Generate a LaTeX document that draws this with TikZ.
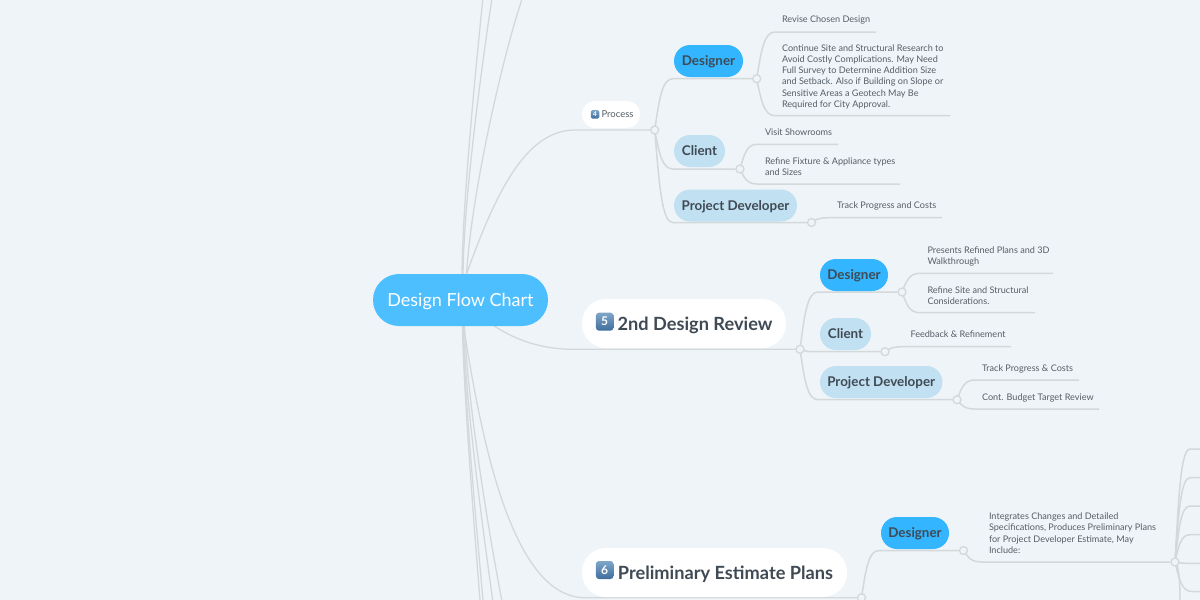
\documentclass[tikz,border=0pt]{standalone}
\usepackage{fontspec}
\setmainfont{Lato}
\usetikzlibrary{calc}
\definecolor{bgc}{HTML}{EFF4F8}
\definecolor{linec}{HTML}{D3D8DB}
\definecolor{rootc}{HTML}{4DBFFF}
\definecolor{desc}{HTML}{33B5FF}
\definecolor{subc}{HTML}{C1E1F2}
\definecolor{darkc}{HTML}{3F4A54}
\definecolor{leafc}{HTML}{555F66}
\definecolor{KeyTop}{HTML}{7FA6C9}
\definecolor{KeyBot}{HTML}{3F6E9C}
\pgfdeclarelayer{bglayer}
\pgfdeclarelayer{edges}
\pgfsetlayers{bglayer,edges,main}
\tikzset{
  x=1pt,y=-1pt,
  pill/.style={rounded corners=#1,inner sep=0pt,outer sep=0pt},
  rootbox/.style={pill=26pt,fill=rootc,text=white,minimum width=175pt,minimum height=52pt,text height=14pt,text depth=1pt,font=\fontsize{18}{20}\selectfont},
  whitebox/.style={pill=24pt,fill=white,text=darkc,minimum height=49pt,text height=14pt,text depth=1pt,font=\bfseries\fontsize{18.2}{20}\selectfont},
  smallbox/.style={pill=13pt,fill=white,text=leafc,minimum height=27pt,text height=7.4pt,text depth=1pt,font=\fontsize{9.5}{12}\selectfont},
  desbox/.style={pill=16pt,fill=desc,text=darkc,minimum height=32pt,text height=10.4pt,text depth=1pt,font=\bfseries\fontsize{13.4}{16}\selectfont},
  subbox/.style={pill=16pt,fill=subc,text=darkc,minimum height=32pt,text height=10.4pt,text depth=1pt,font=\bfseries\fontsize{13.4}{16}\selectfont},
  leaf/.style={anchor=north west,inner sep=0pt,outer sep=0pt,text=leafc,align=left,font=\fontsize{9.1}{11.2}\selectfont},
  junction/.style={circle,draw=linec,fill=bgc,line width=1.3pt,minimum size=8pt,inner sep=0pt},
  conn/.style={draw=linec,line width=1.5pt},
  rootconn/.style={draw=linec,line width=1.3pt},
  keycap/.style={rounded corners=#1,top color=KeyTop,bottom color=KeyBot,text=white,inner sep=0pt,outer sep=0pt},
}
\newcommand{\branch}[3]{%
  \draw[conn] let \p1=(#1),\p2=(#2) in (\p1)
    .. controls ({\x1+.25*(\x2-\x1)},{\y1+.6*(\y2-\y1)}) and ({\x1+.4*(\x2-\x1)},\y2) .. (\p2) -- (#3);}
\begin{document}
\begin{tikzpicture}
\useasboundingbox (0,0) rectangle (1200,600);
\begin{pgfonlayer}{bglayer}
\fill[bgc] (0,0) rectangle (1200,600);
\end{pgfonlayer}

% root and first level
\node[rootbox] (root) at (460.5,300) {Design Flow Chart};
\node[smallbox,minimum width=58pt] (process) at (611,114.5) {\hspace*{13pt}Process};
\node[keycap=1.5pt,minimum width=8.5pt,minimum height=8.5pt,font=\bfseries\fontsize{6.5}{7}\selectfont] (key4) at (595,114.3) {4};
\node[whitebox,minimum width=204pt] (review) at (684,323.5) {\hspace*{22pt}2nd Design Review};
\node[keycap=3pt,minimum width=17.5pt,minimum height=18pt,font=\bfseries\fontsize{12}{13}\selectfont] (key5) at (604.7,321.7) {5};
\node[whitebox,minimum width=265pt] (prelim) at (714.5,572.5) {\hspace*{22pt}Preliminary Estimate Plans};
\node[keycap=3pt,minimum width=17.5pt,minimum height=18pt,font=\bfseries\fontsize{12}{13}\selectfont] (key6) at (604.7,570) {6};

% junctions
\node[junction] (jP) at (654.7,130) {};
\node[junction] (jPD) at (756.7,78.7) {};
\node[junction] (jPC) at (740,169) {};
\node[junction] (jPP) at (811.5,222.5) {};
\node[junction] (jR) at (800,349.3) {};
\node[junction] (jRD) at (902,292) {};
\node[junction] (jRC) at (885,351.7) {};
\node[junction] (jRP) at (957,399.7) {};
\node[junction] (jE) at (861.5,597.7) {};
\node[junction] (jED) at (963.5,550.5) {};
\node[junction] (jEL) at (1175,562) {};

% second level
\node[desbox,minimum width=69pt] (pD) at (708.5,61) {Designer};
\node[subbox,minimum width=51pt] (pC) at (699.5,151) {Client};
\node[subbox,minimum width=123pt] (pP) at (735.5,205.5) {Project Developer};
\node[desbox,minimum width=68pt] (rD) at (854,275) {Designer};
\node[subbox,minimum width=51pt] (rC) at (845.5,334) {Client};
\node[subbox,minimum width=122.5pt] (rP) at (881.2,382) {Project Developer};
\node[desbox,minimum width=68pt] (eD) at (915,533) {Designer};

% leaves
\node[leaf] (t1) at (782,16) {Revise Chosen Design};
\node[leaf] (t2) at (782,44.5) {Continue Site and Structural Research to\\Avoid Costly Complications. May Need\\Full Survey to Determine Addition Size\\and Setback. Also if Building on Slope or\\Sensitive Areas a Geotech May Be\\Required for City Approval.};
\node[leaf] (t3) at (765,128.5) {Visit Showrooms};
\node[leaf] (t4) at (765,157.5) {Refine Fixture \& Appliance types\\and Sizes};
\node[leaf] (t5) at (837,202) {Track Progress and Costs};
\node[leaf] (t6) at (927.5,247) {Presents Refined Plans and 3D\\Walkthrough};
\node[leaf] (t7) at (927.5,286.5) {Refine Site and Structural\\Considerations.};
\node[leaf] (t8) at (910.5,331) {Feedback \& Refinement};
\node[leaf] (t9) at (982,364.5) {Track Progress \& Costs};
\node[leaf] (t10) at (982,393.5) {Cont. Budget Target Review};
\node[leaf] (t11) at (989,513) {Integrates Changes and Detailed\\Specifications, Produces Preliminary Plans\\for Project Developer Estimate, May\\Include:};

% elbows and free ends
\foreach \n/\x/\y in {ePD/673/78.7,ePC/673/169,ePP/673/222.7,
  l1/775/32,l1e/876/32,l2/775/115.7,l2e/950/115.7,l3/757/144.3,l3e/838/144.3,l4/757/184,l4e/900/184,l5/829/217.7,l5e/942/217.7,
  eRD/818/292,eRC/815/351.7,eRP/818/399.7,
  l6/920/273.3,l6e/1053/273.3,l7/920/312.7,l7e/1035/312.7,l8/903/346.7,l8e/1011/346.7,l9/975/380,l9e/1079/380,l10/975/409,l10e/1099/409,
  eED/879/550.5,l11/982/562,
  s1/1190/449,s1e/1200/449,s2/1190/477.7,s2e/1200/477.7,s3/1190/506,s3e/1200/506,s4/1190/534.7,s4e/1200/534.7,s5/1190/563.3,s5e/1200/563.3,s6/1192/591.5,s6e/1200/591.5,
  tA/482.7/0,tB/491.7/0,tC/521.7/0,bA/480/600,bB/483/600,bC/492.7/600,bD/501.7/600,
  sV/1180/600}
  {\coordinate (\n) at (\x,\y);}

\begin{pgfonlayer}{edges}
% root branches (the second control point is relative to the end point)
\draw[rootconn] (root.center) ++(1.5,-26) .. controls +(1,-80) and +(-6,60) .. (tA);
\draw[rootconn] (root.center) ++(2.5,-26) .. controls +(1,-80) and +(-9,60) .. (tB);
\draw[rootconn] (root.center) ++(6,-26) .. controls +(5,-80) and +(-20,60) .. (tC);
\draw[rootconn] (root.center) ++(2,26) .. controls +(1,60) and +(-8,-100) .. (bA);
\draw[rootconn] (root.center) ++(2.5,26) .. controls +(1,60) and +(-9,-100) .. (bB);
\draw[rootconn] (root.center) ++(3,26) .. controls +(1,60) and +(-14,-100) .. (bC);
\draw[rootconn] (root.center) ++(4,26) .. controls +(2,60) and +(-19,-100) .. (bD);
\draw[rootconn] (root.center) ++(6,-26) .. controls (495,195) and (525,130) .. (575,130) -- (jP);
\draw[rootconn] (root.center) .. controls (495,330) and (525,349.3) .. (575,349.3) -- (jR);
\draw[rootconn] (root.center) ++(3,26) .. controls (480,430) and (510,597.7) .. (585,597.7) -- (jE);

% process
\branch{jP}{ePD}{jPD}
\branch{jP}{ePC}{jPC}
\branch{jP}{ePP}{jPP}
\branch{jPD}{l1}{l1e}
\branch{jPD}{l2}{l2e}
\branch{jPC}{l3}{l3e}
\branch{jPC}{l4}{l4e}
\branch{jPP}{l5}{l5e}
% review
\branch{jR}{eRD}{jRD}
\branch{jR}{eRC}{jRC}
\branch{jR}{eRP}{jRP}
\branch{jRD}{l6}{l6e}
\branch{jRD}{l7}{l7e}
\branch{jRC}{l8}{l8e}
\branch{jRP}{l9}{l9e}
\branch{jRP}{l10}{l10e}
% estimate
\branch{jE}{eED}{jED}
\branch{jED}{l11}{jEL}
\branch{jEL}{s1}{s1e}
\branch{jEL}{s2}{s2e}
\branch{jEL}{s3}{s3e}
\branch{jEL}{s4}{s4e}
\branch{jEL}{s5}{s5e}
\branch{jEL}{s6}{s6e}
\draw[conn] (jEL) .. controls (1179,570) and (1180,585) .. (sV);
\end{pgfonlayer}
\end{tikzpicture}
\end{document}
